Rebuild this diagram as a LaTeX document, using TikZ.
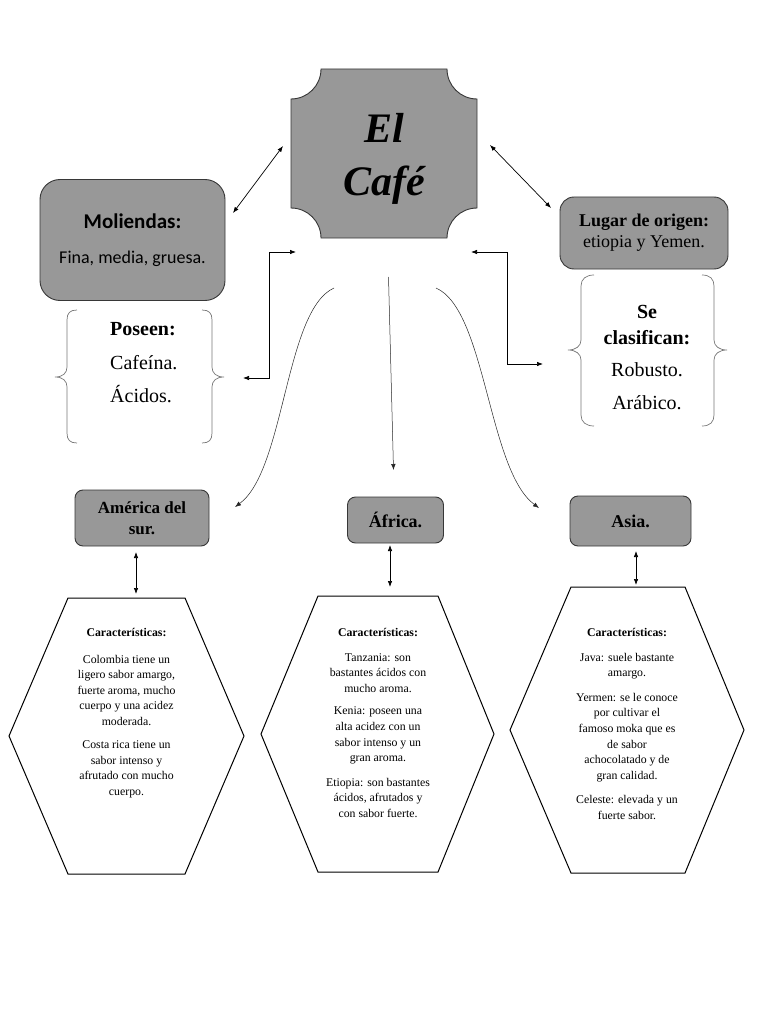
\documentclass[tikz,border=0pt]{standalone}
\usepackage{fontspec}
\setmainfont{Liberation Serif}
\newfontfamily\calibri{Carlito}
\usetikzlibrary{arrows.meta}
\definecolor{cajagris}{RGB}{152,152,152}
\definecolor{borde}{RGB}{55,55,55}
\definecolor{llave}{RGB}{120,120,120}
\begin{document}
\begin{tikzpicture}[x=1pt,y=-1pt,
        caja/.style={draw=borde,fill=cajagris,line width=0.9pt,inner sep=0pt,align=center},
        flecha/.style={line width=0.7pt,{Latex[length=6pt,width=4.5pt]}-{Latex[length=6pt,width=4.5pt]}},
        curva/.style={line width=0.5pt,draw=black!85,-{Latex[length=6pt,width=4.5pt]}},
        llaves/.style={draw=llave,line width=0.7pt},
        hexa/.style={draw=black,line width=1pt},
        caract/.style={inner sep=0pt,align=center,anchor=north,font=\fontsize{11.8}{15.6}\selectfont}]
        \useasboundingbox (0,0) rectangle (768,1024);
        % centro
        \draw[draw=borde,fill=cajagris,line width=0.9pt] (321,69) -- (447,69) .. controls (447,85.6) and (460.4,99) .. (477,99) -- (477,208) .. controls (460.4,208) and (447,221.4) .. (447,238) -- (321,238) .. controls (321,221.4) and (307.6,208) .. (291,208) -- (291,99) .. controls (307.6,99) and (321,85.6) .. (321,69) -- cycle;
        \node (cafe) at (384,159) [font=\fontsize{42}{53}\selectfont\bfseries\itshape,align=center] {El\\Café};
        \node[caja,rounded corners=20pt,minimum width=185pt,minimum height=121pt,font=\calibri\fontsize{18}{35}\selectfont] (moli) at (132.5,240) {{\fontsize{21}{22}\selectfont\bfseries Moliendas:}\\Fina, media, gruesa.};
        \node[caja,rounded corners=14pt,minimum width=168pt,minimum height=72pt,font=\fontsize{18}{21}\selectfont] (lugar) at (644,233) {\textbf{Lugar de origen:}\\etiopia y Yemen.};
        % llaves
        \draw[llaves] (77,310) .. controls (70,310) and (67,313) .. (67,320) -- (67,367) .. controls (67,373) and (63,377) .. (55,377) .. controls (63,377) and (67,381) .. (67,387) -- (67,433) .. controls (67,440) and (70,443) .. (77,443);
        \draw[llaves] (202,310) .. controls (209,310) and (212,313) .. (212,320) -- (212,367) .. controls (212,373) and (216,377) .. (224,377) .. controls (216,377) and (212,381) .. (212,387) -- (212,433) .. controls (212,440) and (209,443) .. (202,443);
        \draw[llaves] (594,275) .. controls (586,275) and (581,279) .. (581,286) -- (581,340) .. controls (581,346) and (576,350) .. (568,350) .. controls (576,350) and (581,354) .. (581,360) -- (581,415) .. controls (581,422) and (586,426) .. (594,426);
        \draw[llaves] (702,275) .. controls (710,275) and (714,279) .. (714,286) -- (714,340) .. controls (714,346) and (719,350) .. (727,350) .. controls (719,350) and (714,354) .. (714,360) -- (714,415) .. controls (714,422) and (710,426) .. (702,426);
        \node[inner sep=0pt,align=left,anchor=north west,font=\fontsize{20}{33.5}\selectfont] (poseen) at (110,322.5) {\textbf{Poseen:}\\Cafeína.\\Ácidos.};
        \node[inner sep=0pt,align=center,anchor=north,font=\fontsize{20}{26}\selectfont] (clasif) at (647,305) {\textbf{Se}\\\textbf{clasifican:}\\[6pt]Robusto.\\[7pt]Arábico.};
        % regiones
        \node[caja,rounded corners=8pt,minimum width=134pt,minimum height=56pt,font=\fontsize{17}{21}\selectfont\bfseries] (amer) at (142,518) {América del\\sur.};
        \node[caja,rounded corners=8pt,minimum width=96pt,minimum height=46pt,font=\fontsize{18}{21}\selectfont\bfseries] (afri) at (395.5,520) {África.};
        \node[caja,rounded corners=8pt,minimum width=121pt,minimum height=50pt,font=\fontsize{18}{21}\selectfont\bfseries] (asia) at (630.5,521) {Asia.};
        % hexagonos
        \draw[hexa] (68,598) -- (185,598) -- (244,736) -- (185,874) -- (68,874) -- (9,736) -- cycle;
        \draw[hexa] (318,596) -- (438,596) -- (494,734) -- (438,872) -- (318,872) -- (261,734) -- cycle;
        \draw[hexa] (571,587) -- (685,587) -- (744,730) -- (685,873) -- (571,873) -- (510,730) -- cycle;
        \node[caract] (textA) at (126.5,628) {\textbf{Características:}\\[11pt]Colombia tiene un\\ligero sabor amargo,\\fuerte aroma, mucho\\cuerpo y una acidez\\moderada.\\[7.5pt]Costa rica tiene un\\sabor intenso y\\afrutado con mucho\\cuerpo.};
        \node[caract] (textB) at (378,628) {\textbf{Características:}\\[9pt]Tanzania: son\\bastantes ácidos con\\mucho aroma.\\[7pt]Kenia: poseen una\\alta acidez con un\\sabor intenso y un\\gran aroma.\\[9pt]Etiopia: son bastantes\\ácidos, afrutados y\\con sabor fuerte.};
        \node[caract] (textC) at (627,628) {\textbf{Características:}\\[9pt]Java: suele bastante\\amargo.\\[9pt]Yermen: se le conoce\\por cultivar el\\famoso moka que es\\de sabor\\achocolatado y de\\gran calidad.\\[9pt]Celeste: elevada y un\\fuerte sabor.};
        % conectores
        \coordinate (cafeO) at (283,146);
        \coordinate (moliE) at (233,213);
        \coordinate (cafeE) at (490,145);
        \coordinate (lugarO) at (551,208);
        \coordinate (codoLa) at (296,252);
        \coordinate (codoLb) at (243,378);
        \coordinate (codoRa) at (471,252);
        \coordinate (codoRb) at (543,364);
        \coordinate (curLa) at (334,288);
        \coordinate (curLb) at (235,507);
        \coordinate (rectA) at (388.5,277);
        \coordinate (rectB) at (393.5,470);
        \coordinate (curRa) at (436,288);
        \coordinate (curRb) at (539,508);
        \coordinate (amerS) at (136,552);
        \coordinate (hexA) at (136,594);
        \coordinate (afriS) at (390,545);
        \coordinate (hexB) at (390,587);
        \coordinate (asiaS) at (636,551);
        \coordinate (hexC) at (636,585);
        \draw[flecha] (cafeO) -- (moliE);
        \draw[flecha] (cafeE) -- (lugarO);
        \draw[flecha] (codoLa) -- ++(-27,0) |- (codoLb);
        \draw[flecha] (codoRa) -- ++(36,0) |- (codoRb);
        \draw[curva] (curLa) .. controls (285,310) and (285,470) .. (curLb);
        \draw[curva] (rectA) -- (rectB);
        \draw[curva] (curRa) .. controls (486,310) and (488,470) .. (curRb);
        \draw[flecha] (amerS) -- (hexA);
        \draw[flecha] (afriS) -- (hexB);
        \draw[flecha] (asiaS) -- (hexC);
\end{tikzpicture}
\end{document}
